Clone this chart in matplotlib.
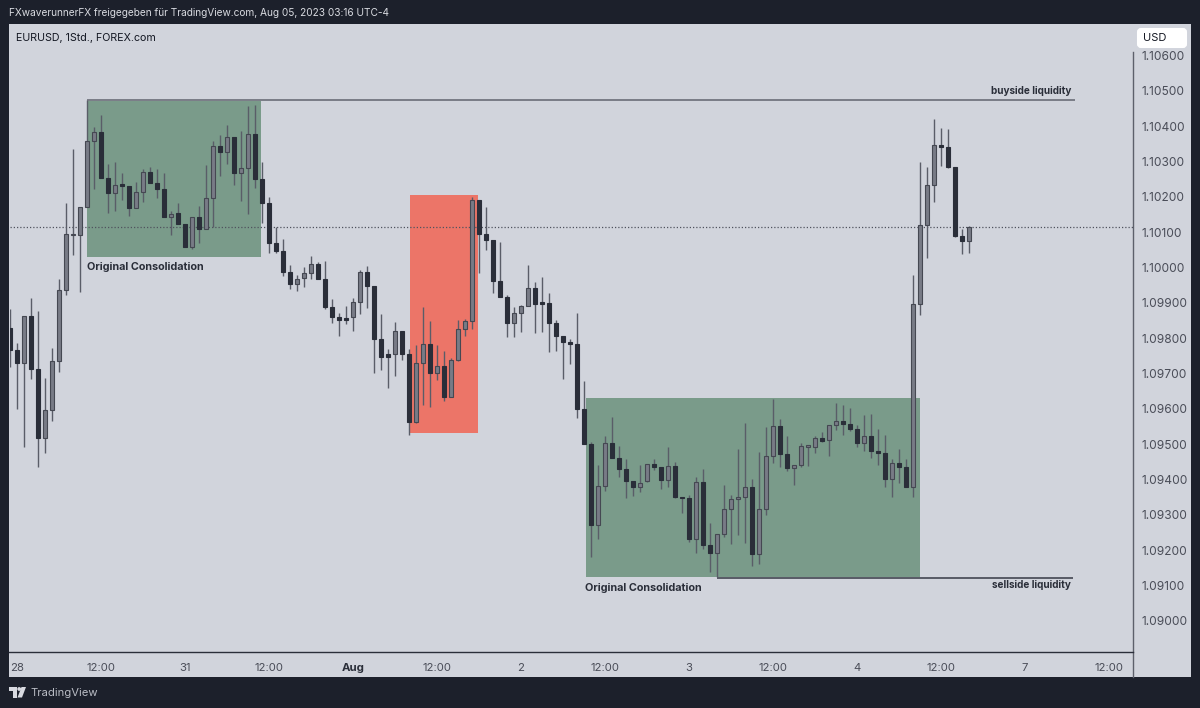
import matplotlib
matplotlib.use("Agg")
import matplotlib.pyplot as plt
from matplotlib.patches import Rectangle, FancyBboxPatch, Polygon, Circle

# OHLC in units of 0.00001 (hourly EURUSD bars)
open_pts = [109830,109766,109729,109862,109712,109517,109596,109735,109936,110092,110092,110171,110357,110383,110253,110212,110234,110231,110169,110214,110271,110239,110222,110143,110153,110124,110058,110144,110110,110197,110344,110326,110368,110268,110282,110377,110250,110183,110070,110047,109986,109954,109969,109985,110011,109968,109888,109860,109857,109859,109902,109988,109947,109797,109754,109754,109821,109755,109564,109729,109783,109702,109720,109634,109738,109826,109848,110191,110095,110077,109962,109916,109842,109870,109891,109943,109900,109900,109842,109806,109788,109784,109599,109500,109271,109381,109504,109460,109429,109397,109378,109395,109445,109435,109399,109438,109350,109347,109232,109394,109215,109192,109247,109316,109344,109351,109380,109190,109318,109467,109551,109471,109432,109440,109493,109493,109517,109511,109554,109566,109557,109542,109503,109522,109480,109475,109402,109447,109436,109379,109897,110121,110234,110347,110340,110285,110090,110076]
high_pts = [109882,109785,109862,109913,109877,109688,109771,109967,110182,110334,110171,110475,110398,110431,110293,110299,110267,110231,110241,110278,110284,110279,110267,110161,110182,110124,110144,110175,110289,110359,110375,110403,110368,110385,110457,110459,110297,110200,110114,110080,110007,109979,110002,110033,110015,110018,109910,109870,109891,109913,109993,110004,109947,109868,109769,109847,109821,109769,109781,109889,109849,109781,109764,109745,109851,109854,110200,110191,110170,110077,110072,109922,109889,109894,110007,109960,109972,109927,109851,109806,109798,109870,109679,109506,109440,109524,109576,109495,109457,109397,109440,109445,109457,109435,109493,109449,109350,109356,109406,109431,109278,109247,109384,109356,109487,109561,109401,109477,109548,109628,109570,109523,109440,109503,109495,109523,109534,109554,109616,109611,109602,109554,109583,109585,109542,109525,109458,109486,109457,109979,110299,110284,110419,110394,110391,110285,110108,110117]
low_pts = [109718,109599,109491,109684,109436,109476,109566,109705,109921,110035,109931,110171,110222,110253,110153,110161,110191,110146,110169,110184,110239,110196,110143,110092,110124,110058,110053,110070,110110,110115,110259,110293,110233,110188,110151,110224,110125,110040,110040,109977,109938,109934,109946,109967,109968,109883,109842,109806,109840,109821,109868,109885,109702,109710,109660,109694,109738,109526,109559,109611,109606,109682,109623,109634,109735,109807,109825,109984,110050,109927,109916,109804,109804,109816,109891,109814,109817,109760,109763,109684,109727,109575,109500,109182,109231,109367,109460,109406,109347,109353,109365,109393,109427,109372,109378,109347,109304,109224,109193,109204,109138,109125,109237,109217,109243,109221,109155,109161,109300,109447,109436,109425,109385,109436,109438,109474,109507,109467,109540,109527,109536,109493,109480,109462,109442,109380,109351,109391,109379,109351,109866,110026,110186,110287,110281,110087,110038,110042]
close_pts = [109766,109729,109862,109712,109517,109596,109735,109936,110094,110094,110171,110357,110383,110253,110212,110234,110231,110169,110214,110271,110239,110222,110143,110152,110124,110058,110144,110110,110197,110344,110326,110368,110268,110282,110377,110250,110183,110070,110047,109986,109954,109968,109984,110011,109968,109888,109860,109852,109852,109902,109988,109947,109797,109748,109748,109821,109755,109564,109729,109783,109702,109720,109634,109738,109825,109848,110191,110095,110077,109962,109916,109842,109870,109891,109943,109896,109897,109842,109806,109788,109784,109599,109500,109271,109381,109504,109460,109429,109397,109378,109391,109445,109435,109399,109438,109350,109347,109232,109394,109215,109192,109247,109316,109344,109351,109380,109190,109318,109467,109551,109471,109432,109440,109495,109495,109517,109510,109554,109566,109557,109542,109503,109522,109480,109475,109402,109447,109436,109379,109897,110121,110234,110347,110340,110285,110090,110076,110115]
assert len(open_pts) == len(high_pts) == len(low_pts) == len(close_pts) == 138

time_ticks = [1, 13, 25, 37, 49, 61, 73, 85, 97, 109, 121, 133, 145, 157]
time_labels = ["28", "12:00", "31", "12:00", "Aug", "12:00", "2", "12:00", "3", "12:00", "4", "12:00", "7", "12:00"]
price_ticks = [1.09, 1.091, 1.092, 1.093, 1.094, 1.095, 1.096, 1.097, 1.098, 1.099,
               1.100, 1.101, 1.102, 1.103, 1.104, 1.105, 1.106]

# Annotation zones: (first bar, last bar, low price, high price)
consol_a = (11.1, 35.9, 1.10030, 1.10471)
supply = (57.2, 66.9, 1.09532, 1.10205)
consol_b = (82.3, 130.0, 1.09124, 1.09631)
buyside = (11.0, 152.2, 1.10475)
sellside = (101.0, 151.9, 1.09122)

BG = "#d1d4dc"
DARK = "#1c202b"
FONT = "Inter"
plt.rcParams["font.family"] = [FONT, "DejaVu Sans"]

W, H = 1200, 708
fig = plt.figure(figsize=(12, 7.08), dpi=100, facecolor=DARK)

chrome = fig.add_axes([0, 0, 1, 1], zorder=0)
chrome.set_xlim(0, W)
chrome.set_ylim(H, 0)
chrome.axis("off")
chrome.add_patch(Rectangle((9, 24), 1182, 653, fc=BG, ec="none"))
chrome.text(9, 13, "FXwaverunnerFX freigegeben für TradingView.com, Aug 05, 2023 03:16 UTC-4",
            color="#d8dae0", fontsize=7.3, va="center", ha="left")
chrome.text(30, 692.5, "TradingView", color="#b9bcc4", fontsize=8.1, va="center", ha="left")
chrome.add_patch(Polygon([(9, 687), (17, 687), (17, 697.5), (13, 697.5), (13, 691), (9, 691)], fc="#d8dae0", ec="none"))
chrome.add_patch(Circle((19.2, 689), 1.9, fc="#d8dae0", ec="none"))
chrome.add_patch(Polygon([(21.5, 687), (26, 687), (22, 697.5), (17.5, 697.5)], fc="#d8dae0", ec="none"))
chrome.add_patch(FancyBboxPatch((1138, 29), 48, 18, boxstyle="round,pad=0,rounding_size=3", fc="white", ec="white", lw=1.5))
chrome.text(1155, 38, "USD", color="#131722", fontsize=8, va="center", ha="center")
chrome.plot([1133, 1133], [52, 677], color="#5d606b", lw=1.0)
chrome.plot([9, 1133], [652.4, 652.4], color="#2a2e39", lw=1.0)
chrome.text(16, 38, "EURUSD, 1Std., FOREX.com", color="#131722", fontsize=7.7, va="center", ha="left")

L, R, T, B = 9.5, 1133, 25, 652
ax = fig.add_axes([L / W, 1 - B / H, (R - L) / W, (B - T) / H], zorder=1)
ax.patch.set_alpha(0)
ax.set_xlim((L - 9.7) / 7, (R - 9.7) / 7)
ax.set_ylim(1.08912, 1.10686)
for s in ax.spines.values():
    s.set_visible(False)


def zone(z, color):
    ax.add_patch(Rectangle((z[0], z[2]), z[1] - z[0], z[3] - z[2], fc=color, ec="none", zorder=1))


zone(consol_a, "#7a9b8a")
zone(consol_b, "#7a9b8a")
zone(supply, "#ec7568")

ax.axhline(close_pts[-1] / 1e5, color="#50535e", lw=0.9, ls=(0, (1, 1.6)), zorder=2)
ax.plot(buyside[:2], [buyside[2]] * 2, color="#6a6d78", lw=1.2, zorder=2, solid_capstyle="butt")
ax.plot(sellside[:2], [sellside[2]] * 2, color="#434651", lw=1.2, zorder=2, solid_capstyle="butt")

for i, (o, h, l, c) in enumerate(zip(open_pts, high_pts, low_pts, close_pts)):
    up = c >= o
    face = "#787b86" if up else "#2a2e39"
    edge = "#454852" if up else "#2a2e39"
    ax.vlines(i, l / 1e5, h / 1e5, color="#5a5d68", lw=1.0, zorder=3)
    bottom, top = min(o, c) / 1e5, max(o, c) / 1e5
    ax.bar(i, max(top - bottom, 0.00004), width=0.6, bottom=bottom, color=face,
           edgecolor=edge, linewidth=0.8, zorder=4)

ax.text(11.0, 1.10001, "Original Consolidation", fontsize=7.8, fontweight="bold",
        color="#2a2e39", va="center", ha="left", zorder=6)
ax.text(82.2, 1.09094, "Original Consolidation", fontsize=7.8, fontweight="bold",
        color="#2a2e39", va="center", ha="left", zorder=6)
ax.text(151.6, 1.10500, "buyside liquidity", fontsize=7.2, fontweight="bold",
        color="#2a2e39", va="center", ha="right", zorder=6)
ax.text(151.6, 1.09101, "sellside liquidity", fontsize=7.2, fontweight="bold",
        color="#2a2e39", va="center", ha="right", zorder=6)

ax.yaxis.tick_right()
ax.set_yticks(price_ticks)
ax.set_yticklabels([f"{p:.5f}" for p in price_ticks], fontsize=8.6, color="#4a4d58")
ax.tick_params(axis="y", length=0, pad=6.3)
ax.set_xticks(time_ticks)
ax.set_xticklabels(time_labels, fontsize=8.2, color="#4a4d58")
ax.tick_params(axis="x", length=0, pad=8)
for lab in ax.get_xticklabels():
    if lab.get_text() == "Aug":
        lab.set_fontweight("bold")
        lab.set_color("#2a2e39")

fig.savefig("out.png", dpi=100, facecolor=DARK)
